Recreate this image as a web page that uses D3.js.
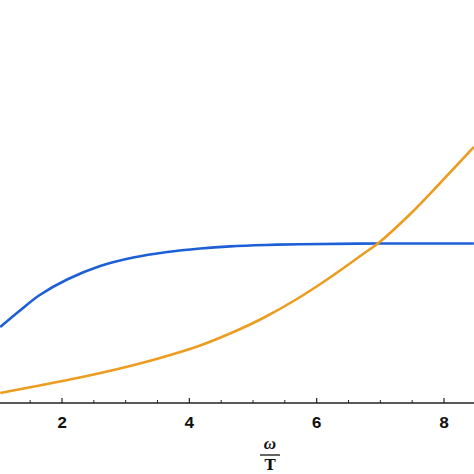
<!DOCTYPE html>
<html>
<head>
<meta charset="utf-8">
<script src="https://cdn.jsdelivr.net/npm/d3@7"></script>
<style>
  html, body { margin: 0; padding: 0; background: #fff; }
  svg { display: block; }
</style>
</head>
<body>
<svg id="chart" width="474" height="474"></svg>
<script>
// Data (y in arbitrary units; no y axis shown)
const blueOmega = [1.03, 1.34, 1.65, 2.08, 2.60, 3.12, 3.65, 4.17, 4.64, 5.20, 5.74, 6.99, 8.47];
const blueValue = [0.76, 0.925, 1.08, 1.235, 1.37, 1.455, 1.51, 1.545, 1.566, 1.58, 1.588, 1.595, 1.595];
const orangeOmega = [1.03, 1.65, 2.28, 2.91, 3.54, 4.17, 4.80, 5.16, 5.69, 6.21, 6.73, 6.99, 7.47, 7.94, 8.47];
const orangeValue = [0.10, 0.175, 0.255, 0.345, 0.45, 0.575, 0.74, 0.85, 1.04, 1.255, 1.49, 1.61, 1.89, 2.20, 2.56];
const majorTicks = [2, 4, 6, 8];
const minorTicks = [1.5, 2.5, 3, 3.5, 4.5, 5, 5.5, 6.5, 7, 7.5];

const svg = d3.select("#chart");
const x = d3.scaleLinear().domain([2, 8]).range([62, 444]);
const y = d3.scaleLinear().domain([0, 4.03]).range([403, 0]);

// Curves
const line = d3.line().x(d => x(d[0])).y(d => y(d[1])).curve(d3.curveCatmullRom.alpha(0.5));
const blue = blueOmega.map((w, i) => [w, blueValue[i]]);
const orange = orangeOmega.map((w, i) => [w, orangeValue[i]]);

svg.append("path").datum(blue).attr("d", line)
  .attr("fill", "none").attr("stroke", "#1c5fd6").attr("stroke-width", 2.6);
svg.append("path").datum(orange).attr("d", line)
  .attr("fill", "none").attr("stroke", "#ec9c1f").attr("stroke-width", 2.6);

// Axis
const axisY = y(0);
svg.append("line").attr("x1", 0).attr("x2", 474)
  .attr("y1", axisY).attr("y2", axisY)
  .attr("stroke", "#222").attr("stroke-width", 1.6);

svg.selectAll(".major").data(majorTicks).enter().append("line")
  .attr("x1", d => x(d)).attr("x2", d => x(d))
  .attr("y1", axisY).attr("y2", axisY - 5)
  .attr("stroke", "#222").attr("stroke-width", 1.2);

svg.selectAll(".minor").data(minorTicks).enter().append("line")
  .attr("x1", d => x(d)).attr("x2", d => x(d))
  .attr("y1", axisY).attr("y2", axisY - 3)
  .attr("stroke", "#222").attr("stroke-width", 1);

svg.selectAll(".tl").data(majorTicks).enter().append("text")
  .attr("x", d => x(d)).attr("y", 428)
  .attr("text-anchor", "middle")
  .attr("font-family", "'Liberation Mono', 'DejaVu Sans Mono', monospace")
  .attr("font-size", 17).attr("font-weight", "bold")
  .attr("fill", "#111")
  .text(d => d);

// Axis label: omega over T
const lx = 270;
svg.append("text").attr("x", lx).attr("y", 449)
  .attr("text-anchor", "middle")
  .attr("font-family", "'Liberation Serif', 'DejaVu Serif', serif")
  .attr("font-style", "italic").attr("font-weight", "bold")
  .attr("font-size", 17).attr("fill", "#111").text("ω");
svg.append("line").attr("x1", lx - 10).attr("x2", lx + 10)
  .attr("y1", 455).attr("y2", 455)
  .attr("stroke", "#111").attr("stroke-width", 1.3);
svg.append("text").attr("x", lx).attr("y", 470)
  .attr("text-anchor", "middle")
  .attr("font-family", "'DejaVu Serif', 'Liberation Serif', serif")
  .attr("font-weight", "bold")
  .attr("font-size", 15).attr("fill", "#111").text("T");
</script>
</body>
</html>
